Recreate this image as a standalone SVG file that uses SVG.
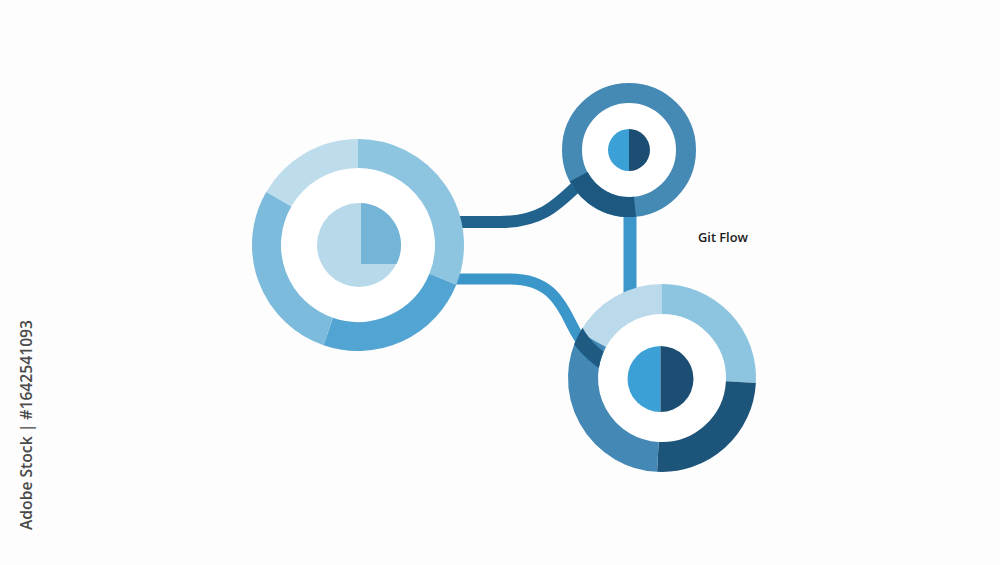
<svg xmlns="http://www.w3.org/2000/svg" width="1000" height="565" viewBox="0 0 1000 565">
  <style>
    .seg { fill: none; }
    .conn { fill: none; stroke-linecap: butt; }
    .label { font-family: "Open Sans", "Liberation Sans", sans-serif; }
  </style>
  <defs>
    <clipPath id="ringClip">
      <path clip-rule="evenodd" d="M 662 284 A 94 94 0 1 1 661.99 284 Z M 662 314 A 64 64 0 1 0 662.01 314 Z"/>
    </clipPath>
  </defs>
  <rect width="1000" height="565" fill="#fdfdfd"/>

  <g id="connectors">
    <path class="conn" d="M 455 222 L 500 222 C 540 222, 556 206, 578 185 C 584 179, 590 176, 598 176" stroke="#22638e" stroke-width="12"/>
    <path class="conn" d="M 455 279 L 510 279 C 548 279, 560 300, 572 325 C 580 342, 592 356, 612 367" stroke="#3b96ca" stroke-width="11"/>
    <path class="conn" d="M 630 200 L 630 300" stroke="#3d97cb" stroke-width="13"/>
  </g>

  <g id="node-main">
    <circle cx="358" cy="245" r="77" fill="#ffffff"/>
    <path class="seg" d="M 278.76 199.25 A 91.5 91.5 0 0 1 358 153.5" stroke="#bddcec" stroke-width="29"/>
    <path class="seg" d="M 358 153.5 A 91.5 91.5 0 0 1 442.83 279.28" stroke="#8dc4df" stroke-width="29"/>
    <path class="seg" d="M 442.83 279.28 A 91.5 91.5 0 0 1 328.21 331.51" stroke="#52a5d3" stroke-width="29"/>
    <path class="seg" d="M 328.21 331.51 A 91.5 91.5 0 0 1 278.76 199.25" stroke="#7cbbdc" stroke-width="29"/>
    <circle cx="359" cy="245" r="42" fill="#b7d9ea"/>
    <path d="M 361 264 L 361 203.05 A 42 42 0 0 1 396.46 264 Z" fill="#74b5d7"/>
  </g>

  <g id="node-top">
    <circle cx="629" cy="150" r="47" fill="#ffffff"/>
    <circle class="seg" cx="629" cy="150" r="57" stroke="#4589b5" stroke-width="20"/>
    <path class="seg" d="M 634.96 206.69 A 57 57 0 0 1 578.67 176.76" stroke="#1d5880" stroke-width="20"/>
    <path d="M 629 129 A 21 21 0 0 0 629 171 Z" fill="#3ba0d5"/>
    <path d="M 629 129 A 21 21 0 0 1 629 171 Z" fill="#1b4e72"/>
  </g>

  <g id="node-bottom">
    <circle cx="662" cy="378" r="64" fill="#ffffff"/>
    <path class="seg" d="M 592.91 339.70 A 79 79 0 0 1 662 299" stroke="#badaeb" stroke-width="30"/>
    <path class="seg" d="M 662 299 A 79 79 0 0 1 740.89 382.13" stroke="#8dc4e0" stroke-width="30"/>
    <path class="seg" d="M 740.89 382.13 A 79 79 0 0 1 657.87 456.89" stroke="#1d5479" stroke-width="30"/>
    <path class="seg" d="M 657.87 456.89 A 79 79 0 0 1 592.91 339.70" stroke="#4489b6" stroke-width="30"/>
    <path class="conn" clip-path="url(#ringClip)" d="M 510 279 C 548 279, 560 300, 572 325 C 580 342, 592 356, 616 369" stroke="#1e5a82" stroke-width="16"/>
    <path d="M 660.5 346 A 33 33 0 0 0 660.5 412 Z" fill="#3ba0d5"/>
    <path d="M 660.5 346 A 33 33 0 0 1 660.5 412 Z" fill="#1b4e72"/>
  </g>

  <g id="label">
    <text class="label" x="698" y="242" font-size="13" font-weight="600" fill="#1a1a1a" textLength="50" lengthAdjust="spacingAndGlyphs">Git Flow</text>
  </g>

  <g id="watermark">
    <text class="label" transform="translate(32,530) rotate(-90)" font-size="17" font-weight="600" fill="#4a4a4a" textLength="210" lengthAdjust="spacingAndGlyphs">Adobe Stock | #1642541093</text>
  </g>
</svg>
